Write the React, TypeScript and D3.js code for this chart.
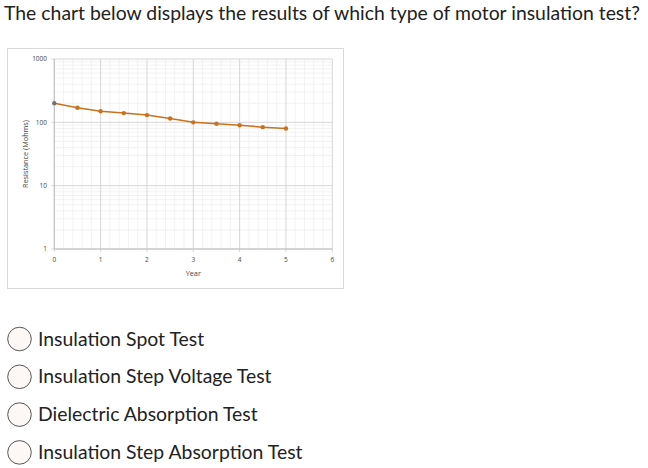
import React from "react";
import * as d3 from "d3";

const years = [0, 0.5, 1, 1.5, 2, 2.5, 3, 3.5, 4, 4.5, 5];
const resistance = [200, 170, 150, 140, 130, 115, 100, 95, 90, 84, 80];
const xTicks = [0, 1, 2, 3, 4, 5, 6];
const yTicks = [1, 10, 100, 1000];
const question = "The chart below displays the results of which type of motor insulation test?";
const options = [
  "Insulation Spot Test",
  "Insulation Step Voltage Test",
  "Dielectric Absorption Test",
  "Insulation Step Absorption Test",
];

export default function App() {
  const W = 648, H = 468;
  const x = d3.scaleLinear().domain([0, 6]).range([54.3, 332.3]);
  const y = d3.scaleLog().domain([1, 1000]).range([249, 59]);

  const minorX = d3.range(0, 6.001, 0.2).map((v) => +v.toFixed(1)).filter((v) => Math.abs(v - Math.round(v)) > 1e-6);
  const minorY: number[] = [];
  for (const dec of [1, 10, 100]) for (let k = 2; k <= 9; k++) minorY.push(dec * k);

  const line = d3.line<number>().x((_, i) => x(years[i])).y((d) => y(d));
  const orange = "#c8711e";
  const font = "Lato, 'Open Sans', sans-serif";
  const cfont = "'Open Sans', 'Noto Sans', sans-serif";

  return (
    <svg width={W} height={H} style={{ position: "absolute", left: 0, top: 0, background: "#fff" }}>
      <rect width={W} height={H} fill="#fff" />
      <text x={4} y={20} fontFamily={font} fontSize={19.4} fill="#222">{question}</text>

      <rect x={7.5} y={48.5} width={336} height={240} fill="#fff" stroke="#d9d9d9" strokeWidth={1} />

      {minorX.map((v) => (
        <line key={"mx" + v} x1={x(v)} x2={x(v)} y1={y(1000)} y2={y(1)} stroke="#efefef" strokeWidth={0.8} />
      ))}
      {minorY.map((v) => (
        <line key={"my" + v} x1={x(0)} x2={x(6)} y1={y(v)} y2={y(v)} stroke="#efefef" strokeWidth={0.8} />
      ))}
      {xTicks.map((v) => (
        <line key={"gx" + v} x1={x(v)} x2={x(v)} y1={y(1000)} y2={y(1) + 3} stroke="#d6d6d6" strokeWidth={1} />
      ))}
      {yTicks.map((v) => (
        <line key={"gy" + v} x1={x(0) - 3} x2={x(6)} y1={y(v)} y2={y(v)} stroke="#d6d6d6" strokeWidth={1} />
      ))}
      <line x1={x(0)} x2={x(0)} y1={y(1000)} y2={y(1)} stroke="#bfbfbf" strokeWidth={1} />
      <line x1={x(0)} x2={x(6)} y1={y(1)} y2={y(1)} stroke="#bfbfbf" strokeWidth={1} />

      {xTicks.map((v) => (
        <text key={"tx" + v} x={x(v)} y={261.5} textAnchor="middle" fontFamily={cfont} fontSize={6.5} fill="#444">{v}</text>
      ))}
      {yTicks.map((v) => (
        <text key={"ty" + v} x={47} y={y(v) + 2.3} textAnchor="end" fontFamily={cfont} fontSize={6.5} fill="#444">{v}</text>
      ))}
      <text x={193.3} y={275.5} textAnchor="middle" fontFamily={cfont} fontSize={7.3} fill="#444">Year</text>
      <text transform={`translate(27.5,${(y(1) + y(1000)) / 2}) rotate(-90)`} textAnchor="middle" fontFamily={cfont} fontSize={7.3} fill="#444">
        Resistance (Mohms)
      </text>

      <path d={line(resistance) || ""} fill="none" stroke={orange} strokeWidth={1.5} />
      {resistance.map((v, i) => (
        <circle key={"p" + i} cx={x(years[i])} cy={y(v)} r={2.2} fill={i === 0 ? "#6d7480" : orange} />
      ))}

      {options.map((o, i) => {
        const cy = 339 + i * 37.8;
        return (
          <g key={o}>
            <circle cx={19.5} cy={cy} r={11.8} fill="#fdf8f6" stroke="#555" strokeWidth={1} />
            <text x={38} y={cy + 6.5} fontFamily={font} fontSize={19.4} fill="#222">{o}</text>
          </g>
        );
      })}
    </svg>
  );
}
